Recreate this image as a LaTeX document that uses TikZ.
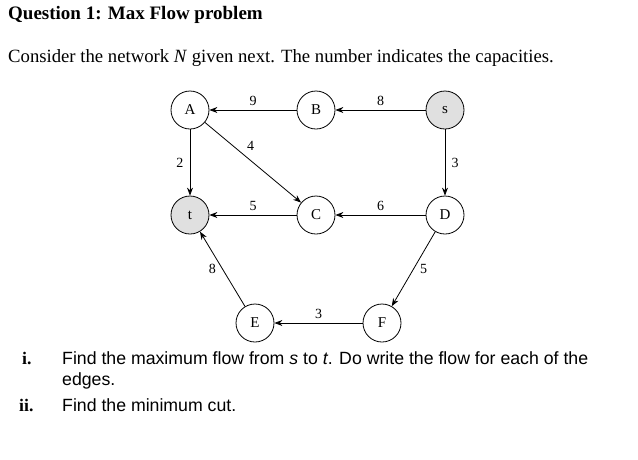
\documentclass[tikz,border=0pt]{standalone}
\usepackage{fontspec}
\setmainfont{Liberation Serif}
\newfontfamily\arialf{Liberation Sans}
\usetikzlibrary{arrows.meta}
\begin{document}
\begin{tikzpicture}[x=1pt,y=-1pt,
  vtx/.style={circle,draw,thick,minimum size=38pt,inner sep=0pt,font=\fontsize{15}{16}\selectfont},
  grayv/.style={vtx,fill=black!12},
  edge/.style={-{Stealth[length=8pt,width=6pt]},thick},
  lbl/.style={font=\fontsize{14}{16}\selectfont}]
\useasboundingbox (0,0) rectangle (638,459);
\node[anchor=west,font=\fontsize{19}{22}\selectfont\bfseries,inner sep=0pt] (title) at (8,15) {Question 1: Max Flow problem};
\node[anchor=west,font=\fontsize{18.7}{22}\selectfont,inner sep=0pt] (intro) at (8,58) {Consider the network \textit{N} given next. The number indicates the capacities.};
\node[vtx] (A) at (190,110) {A};
\node[vtx] (B) at (316,110) {B};
\node[grayv] (s) at (445,110) {s};
\node[grayv] (t) at (190,215) {t};
\node[vtx] (C) at (316,215) {C};
\node[vtx] (D) at (445,215) {D};
\node[vtx] (E) at (255,323) {E};
\node[vtx] (F) at (382,323) {F};
\draw[edge] (B) -- node[lbl,above=1pt]{9} (A);
\draw[edge] (s) -- node[lbl,above=1pt]{8} (B);
\draw[edge] (A) -- node[lbl,left=3pt]{2} (t);
\draw[edge] (A) -- node[lbl,pos=0.4,above right=0pt]{4} (C);
\draw[edge] (C) -- node[lbl,above=1pt]{5} (t);
\draw[edge] (D) -- node[lbl,above=1pt]{6} (C);
\draw[edge] (s) -- node[lbl,right=3pt]{3} (D);
\draw[edge] (E) -- node[lbl,left=3pt]{8} (t);
\draw[edge] (F) -- node[lbl,above=1pt]{3} (E);
\draw[edge] (D) -- node[lbl,right=3pt]{5} (F);
\node[anchor=west,font=\fontsize{17.7}{20}\selectfont\bfseries,inner sep=0pt] (i1) at (22,358) {i.};
\node[anchor=west,font=\arialf\fontsize{17.7}{20}\selectfont,inner sep=0pt] (t1) at (62,358) {Find the maximum flow from \textit{s} to \textit{t}. Do write the flow for each of the};
\node[anchor=west,font=\arialf\fontsize{17.7}{20}\selectfont,inner sep=0pt] (t1b) at (62,381) {edges.};
\node[anchor=west,font=\fontsize{17.7}{20}\selectfont\bfseries,inner sep=0pt] (i2) at (19,405) {ii.};
\node[anchor=west,font=\arialf\fontsize{17.7}{20}\selectfont,inner sep=0pt] (t2) at (62,405) {Find the minimum cut.};
\end{tikzpicture}
\end{document}
